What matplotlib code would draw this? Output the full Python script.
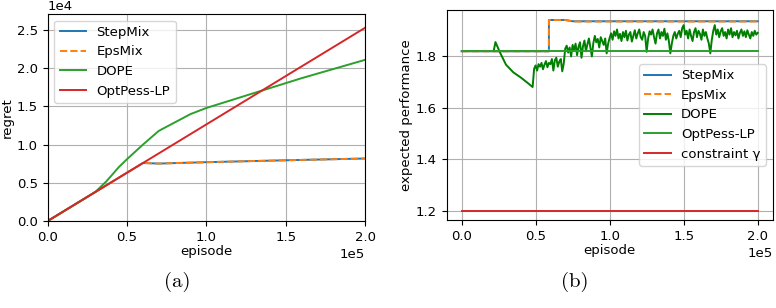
import numpy as np
import matplotlib
matplotlib.use('Agg')
from matplotlib import pyplot as plt

plt.rcParams['font.size'] = 9.5
plt.rcParams['mathtext.fontset'] = 'cm'

# ---- (a) regret ----
reg_x = [0, 0.6e5, 0.7e5, 1.0e5, 1.5e5, 2.0e5]
stepmix_reg = [0, 0.759e4, 0.752e4, 0.770e4, 0.795e4, 0.818e4]
epsmix_reg = [0, 0.759e4, 0.752e4, 0.770e4, 0.795e4, 0.818e4]

dope_x = [0, 0.3e5, 0.37e5, 0.45e5, 0.5e5, 0.6e5, 0.7e5, 0.8e5, 0.9e5, 1.0e5,
          1.2e5, 1.4e5, 1.6e5, 1.8e5, 2.0e5]
dope_reg = [0, 0.38e4, 0.52e4, 0.71e4, 0.81e4, 1.0e4, 1.18e4, 1.29e4, 1.40e4, 1.48e4,
            1.61e4, 1.74e4, 1.87e4, 1.99e4, 2.11e4]

opt_x = [0, 2.0e5]
opt_reg = [0, 2.53e4]

# ---- (b) expected performance ----
mix_x = [0, 0.59e5, 0.59e5, 0.7e5, 0.75e5, 2.0e5]
stepmix_perf = [1.82, 1.82, 1.942, 1.942, 1.937, 1.937]
epsmix_perf = [1.82, 1.82, 1.942, 1.942, 1.936, 1.936]

dope_head_x = [0.217e5, 0.229e5, 0.26e5, 0.30e5, 0.35e5, 0.40e5, 0.44e5, 0.48e5]
dope_head = [1.821, 1.856, 1.815, 1.768, 1.738, 1.718, 1.700, 1.681]
dope_tail = [
    1.752, 1.765, 1.745, 1.770, 1.760, 1.775, 1.750, 1.768, 1.782, 1.758, 1.775,
    1.770, 1.790, 1.745, 1.785, 1.795, 1.760, 1.780, 1.790, 1.742, 1.772,
    1.830, 1.842, 1.815, 1.835, 1.800, 1.845, 1.825, 1.850, 1.805, 1.838,
    1.855, 1.795, 1.840, 1.862, 1.820, 1.848, 1.870, 1.835, 1.800, 1.852,
    1.880, 1.855, 1.868, 1.835, 1.875, 1.860, 1.845, 1.870, 1.812, 1.850,
    1.872, 1.890, 1.865, 1.898, 1.880, 1.905, 1.870, 1.888, 1.860, 1.895,
    1.875, 1.900, 1.862, 1.885, 1.895, 1.858, 1.880, 1.902, 1.870, 1.890,
    1.905, 1.875, 1.865, 1.895, 1.880, 1.818, 1.870, 1.898, 1.885, 1.905,
    1.875, 1.850, 1.890, 1.905, 1.870, 1.895, 1.880, 1.908, 1.865, 1.890,
    1.860, 1.812, 1.850, 1.880, 1.895, 1.870, 1.888, 1.900, 1.875, 1.910,
    1.922, 1.885, 1.900, 1.870, 1.905, 1.880, 1.860, 1.895, 1.910, 1.875,
    1.900, 1.888, 1.865, 1.905, 1.880, 1.895, 1.870, 1.850, 1.812, 1.865,
    1.900, 1.922, 1.885, 1.905, 1.875, 1.898, 1.910, 1.880, 1.895, 1.870,
    1.905, 1.885, 1.910, 1.875, 1.895, 1.882, 1.900, 1.870, 1.892, 1.905,
    1.880, 1.898, 1.875, 1.902, 1.885, 1.870, 1.895, 1.880, 1.900, 1.885, 1.892,
]
dope_tail_x = np.linspace(0.49e5, 2.0e5, len(dope_tail))
dope_perf_x = list(dope_head_x) + list(dope_tail_x)
dope_perf = dope_head + dope_tail

flat_x = [0, 2.0e5]
optpess_perf = [1.82, 1.82]
gamma = [1.2, 1.2]

x_ticks = [0, 0.5e5, 1.0e5, 1.5e5, 2.0e5]

fig = plt.figure(figsize=(7.76, 3.08), dpi=100)
ax1 = fig.add_axes([0.0615, 0.2825, 0.409, 0.672])
ax2 = fig.add_axes([0.5757, 0.2857, 0.4198, 0.682])

lw = 1.4
ax1.plot(reg_x, stepmix_reg, color='tab:blue', lw=lw, label='StepMix')
ax1.plot(reg_x, epsmix_reg, color='tab:orange', lw=lw, ls='--', label='EpsMix')
ax1.plot(dope_x, dope_reg, color='tab:green', lw=lw, label='DOPE')
ax1.plot(opt_x, opt_reg, color='tab:red', lw=lw, label='OptPess-LP')
ax1.set_xlim(0, 2.0e5)
ax1.set_ylim(0, 2.71e4)
ax1.set_xticks(x_ticks)
ax1.set_xlabel('episode', labelpad=1)
ax1.set_ylabel('regret', labelpad=2)
ax1.ticklabel_format(style='sci', axis='both', scilimits=(0, 0))
ax1.grid(True)
ax1.legend(loc='upper left')

ax2.plot(mix_x, stepmix_perf, color='tab:blue', lw=lw, label='StepMix')
ax2.plot(mix_x, epsmix_perf, color='tab:orange', lw=lw, ls='--', label='EpsMix')
ax2.plot(dope_perf_x, dope_perf, color='green', lw=lw, label='DOPE')
ax2.plot(flat_x, optpess_perf, color='tab:green', lw=lw, label='OptPess-LP')
ax2.plot(flat_x, gamma, color='tab:red', lw=lw, label='constraint γ')
ax2.set_xlim(-0.1e5, 2.1e5)
ax2.set_ylim(1.1635, 1.981)
ax2.set_xticks(x_ticks)
ax2.set_yticks([1.2, 1.4, 1.6, 1.8])
ax2.set_xlabel('episode', labelpad=1)
ax2.set_ylabel('expected performance', labelpad=2)
ax2.ticklabel_format(style='sci', axis='x', scilimits=(0, 0))
ax2.grid(True)
ax2.legend(loc='center right')

fig.text(0.229, 0.084, '(a)', family='cmr10', fontsize=15, ha='center', va='center')
fig.text(0.741, 0.084, '(b)', family='cmr10', fontsize=15, ha='center', va='center')

fig.savefig('out.png', dpi=100)
